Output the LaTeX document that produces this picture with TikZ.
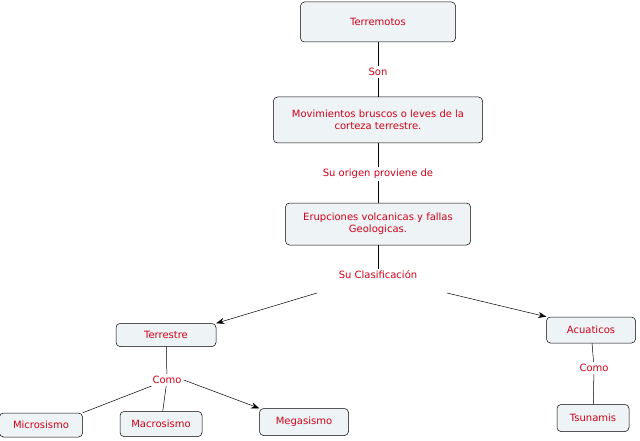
\documentclass[tikz,border=0pt]{standalone}
\usepackage{fontspec}
\setmainfont{DejaVu Sans}
\usetikzlibrary{arrows.meta,positioning}
\definecolor{boxfill}{HTML}{EEF3F5}
\definecolor{txtred}{HTML}{D0021B}
\tikzset{
    every picture/.style = {
        > = {Stealth[length=8pt, width=6pt]}
    },
    concept/.style = {
        draw = black,
        fill = boxfill,
        rounded corners = 4pt,
        text = txtred,
        font = \fontsize{10}{12}\selectfont,
        align = center,
        inner sep = 0pt
    },
    link/.style = {
        text = txtred,
        font = \fontsize{10}{12}\selectfont,
        fill = white,
        inner sep = 2pt
    }
}

\begin{document}
\begin{tikzpicture}[x=1pt, y=-1pt, line width=0.5pt]
    \useasboundingbox (0,0) rectangle (640,441);

    \node[concept, minimum width=155, minimum height=40] (terremotos) at (378,22) {Terremotos};
    \node[link] (son) at (378,72) {Son};
    \node[concept, minimum width=209, minimum height=46] (movimientos) at (378,120) {Movimientos bruscos o leves de la\\corteza terrestre.};
    \node[link] (origen) at (378,174) {Su origen proviene de};
    \node[concept, minimum width=185, minimum height=42] (erupciones) at (378,224) {Erupciones volcanicas y fallas\\Geologicas.};
    \node[link] (clasif) at (378,275) {Su Clasificación};
    \node[concept, minimum width=100, minimum height=23] (terrestre) at (166,335) {Terrestre};
    \node[concept, minimum width=89, minimum height=26] (acuaticos) at (591,330) {Acuaticos};
    \node[link] (como1) at (167,380) {Como};
    \node[link] (como2) at (594,368) {Como};
    \node[concept, minimum width=83, minimum height=24] (micro) at (41,425) {Microsismo};
    \node[concept, minimum width=82, minimum height=25] (macro) at (161,424) {Macrosismo};
    \node[concept, minimum width=89, minimum height=27] (mega) at (304,422) {Megasismo};
    \node[concept, minimum width=72, minimum height=27] (tsunamis) at (593,418) {Tsunamis};

    \coordinate (c1) at (317,293);
    \coordinate (c2) at (447,293);

    \draw (terremotos) -- (son);
    \draw (son) -- (movimientos);
    \draw (movimientos) -- (origen);
    \draw (origen) -- (erupciones);
    \draw (erupciones) -- (clasif);
    \draw[->] (c1) -- (terrestre.north east);
    \draw[->] (c2) -- (acuaticos.north west);
    \draw (terrestre) -- (como1);
    \draw (como1) -- (micro.north east);
    \draw (como1) -- (macro);
    \draw[->] (como1.east) -- (mega.north west);
    \draw (acuaticos) -- (como2);
    \draw (como2) -- (tsunamis);
\end{tikzpicture}
\end{document}
